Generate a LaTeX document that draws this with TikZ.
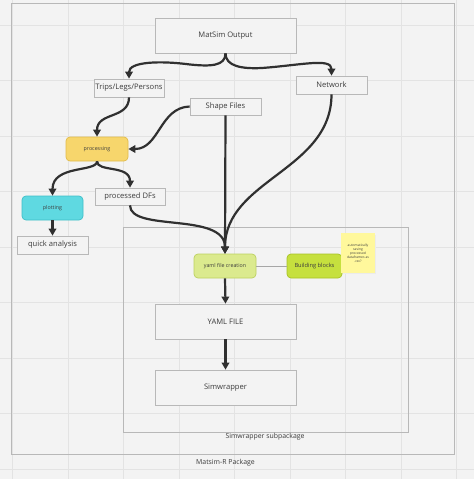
\documentclass[tikz,border=0pt]{standalone}
\usepackage{fontspec}
\setmainfont{Open Sans}
\usetikzlibrary{arrows.meta}
\definecolor{bgc}{HTML}{F3F3F3}
\definecolor{gridc}{HTML}{E3E3E3}
\definecolor{boxline}{HTML}{B8B8B8}
\definecolor{txt}{HTML}{3C3C3C}
\definecolor{arr}{HTML}{303030}
\definecolor{procfill}{HTML}{F7D66C}
\definecolor{procline}{HTML}{E2BC4A}
\definecolor{plotfill}{HTML}{5FD9E1}
\definecolor{plotline}{HTML}{3FBFC8}
\definecolor{yamlfill}{HTML}{DBEA8E}
\definecolor{yamlline}{HTML}{BCD160}
\definecolor{bbfill}{HTML}{C6E03E}
\definecolor{bbline}{HTML}{A8C226}
\definecolor{notefill}{HTML}{FFF89C}
\tikzset{
  plainbox/.style={draw=boxline, line width=0.7pt, fill=bgc, inner sep=0pt, text=txt,
     font=\fontsize{7.6}{9}\selectfont},
  colbox/.style={rounded corners=4pt, line width=0.7pt, inner sep=0pt, text=txt,
     font=\fontsize{5.3}{6}\selectfont},
  conn/.style={draw=arr, line width=2.2pt, -{Triangle[length=7pt,width=7.5pt]}},
  lbl/.style={text=txt, font=\fontsize{7.3}{9}\selectfont, inner sep=0pt},
}
\begin{document}
\begin{tikzpicture}[x=1pt, y=-1pt]
\useasboundingbox (0,0) rectangle (474,479);
\fill[bgc] (0,0) rectangle (474,479);
\foreach \i in {0,...,8} {
  \draw[gridc, line width=0.6pt] ({12.5+55.5*\i},0) -- ({12.5+55.5*\i},479);
}
\foreach \j in {1,...,9} {
  \draw[gridc, line width=0.6pt] (0,{-30.5+55.5*\j}) -- (474,{-30.5+55.5*\j});
}
% containers
\node[draw=boxline, line width=0.7pt, minimum width=443pt, minimum height=450.5pt, inner sep=0pt] (outer) at (232.5,228.75) {};
\node[lbl, font=\fontsize{6.9}{8}\selectfont] (outerlbl) at (225.5,463) {Matsim-R Package};
\node[draw=boxline, line width=0.7pt, minimum width=285pt, minimum height=205pt, inner sep=0pt] (sub) at (265.5,329.5) {};
\node[lbl, font=\fontsize{6.9}{8}\selectfont] (sublbl) at (265,437) {Simwrapper subpackage};

% nodes
\node[plainbox, minimum width=141pt, minimum height=35pt] (mo) at (225.5,35.5) {MatSim Output};
\node[plainbox, minimum width=70pt, minimum height=18pt] (tlp) at (129,88) {Trips/Legs/Persons};
\node[plainbox, minimum width=71pt, minimum height=18pt] (net) at (331.5,85) {Network};
\node[plainbox, minimum width=71pt, minimum height=17pt] (shp) at (225.5,106.5) {Shape Files};
\node[colbox, fill=procfill, draw=procline, minimum width=62pt, minimum height=24pt] (proc) at (97,149) {processing};
\node[colbox, fill=plotfill, draw=plotline, minimum width=61pt, minimum height=24pt] (plot) at (52.5,208) {plotting};
\node[plainbox, minimum width=70pt, minimum height=17pt] (pdf) at (130,196.5) {processed DFs};
\node[plainbox, minimum width=71pt, minimum height=18pt] (qa) at (52.5,245) {quick analysis};
\node[colbox, fill=yamlfill, draw=yamlline, minimum width=62pt, minimum height=24pt] (yaml) at (225,266) {yaml file creation};
\node[colbox, fill=bbfill, draw=bbline, minimum width=55pt, minimum height=24pt, font=\fontsize{5.7}{6.5}\selectfont] (bb) at (314.5,266) {Building blocks};
\fill[black!8] (342.5,234.5) rectangle (376,274);
\node[fill=notefill, minimum width=34pt, minimum height=40pt, inner sep=0pt, text=txt,
      font=\fontsize{3.3}{4.1}\selectfont, align=center] (note) at (358,253)
      {automatically\\saving\\processed\\dataframes as\\.csv?};
\node[plainbox, minimum width=141pt, minimum height=35pt] (yf) at (225.5,321.5) {YAML FILE};
\node[plainbox, minimum width=141pt, minimum height=35pt] (sw) at (225.5,387.5) {Simwrapper};

% waypoints
\coordinate (bl) at (190,64.5);
\coordinate (br) at (262,68);

% connectors
\draw[conn] (mo.south) .. controls +(0,13) and +(20,2) .. (bl) .. controls +(-30,-4) and +(0,-17) .. (tlp.north);
\draw[conn] (mo.south) .. controls +(0,13) and +(-20,1) .. (br) .. controls +(40,-3) and +(0,-18) .. (net.north);
\draw[conn] (tlp.south) .. controls +(0,22) and +(0,-25) .. (proc.north);
\draw[conn] (shp.west) .. controls +(-30,1) and +(31,0) .. (proc.east);
\draw[conn] (proc.south) .. controls +(0,11) and +(0,-31) .. (plot.north);
\draw[conn] (proc.south) .. controls +(0,11) and +(0,-23) .. (pdf.north);
\draw[conn] (plot.south) -- (qa.north);
\draw[conn] (shp.south) -- (yaml.north);
\draw[conn] (net.south) .. controls +(0,76) and +(0,-74) .. (yaml.north);
\draw[conn] (pdf.south) .. controls +(0,27) and +(0,-42) .. (yaml.north);
\draw[conn] (yaml.south) -- (yf.north);
\draw[conn] (yf.south) -- (sw.north);
\draw[draw=black!35, line width=0.5pt] (yaml.east) -- (bb.west);
\end{tikzpicture}
\end{document}
